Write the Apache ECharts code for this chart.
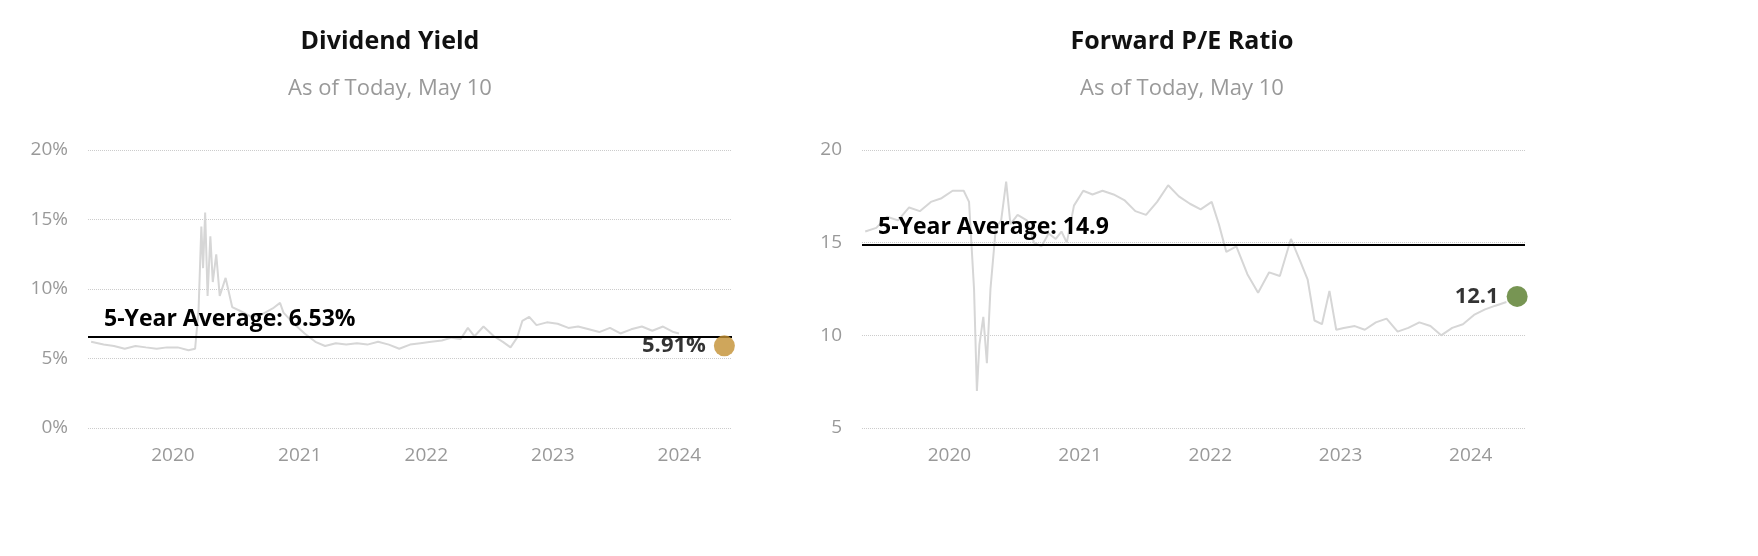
<!DOCTYPE html>
<html><head><meta charset="utf-8">
<script src="https://cdn.jsdelivr.net/npm/echarts@6/dist/echarts.min.js"></script>
<style>html,body{margin:0;background:#fff}#c{width:1758px;height:556px}</style>
</head><body><div id="c"></div>
<script>
// Dividend yield (%)
var yieldDates = ['2019-05-10','2019-06-15','2019-07-15','2019-08-15','2019-09-15','2019-10-15','2019-11-15','2019-12-15','2020-01-15','2020-02-15','2020-03-05','2020-03-15','2020-03-23','2020-03-28','2020-04-03','2020-04-10','2020-04-18','2020-04-25','2020-05-05','2020-05-15','2020-06-01','2020-06-20','2020-07-15','2020-08-15','2020-09-15','2020-10-15','2020-11-05','2020-11-15','2020-12-15','2021-01-15','2021-02-15','2021-03-15','2021-04-15','2021-05-15','2021-06-15','2021-07-15','2021-08-15','2021-09-15','2021-10-15','2021-11-15','2021-12-15','2022-01-15','2022-02-15','2022-03-15','2022-04-10','2022-05-01','2022-05-20','2022-06-15','2022-07-15','2022-08-10','2022-09-01','2022-09-20','2022-10-05','2022-10-25','2022-11-15','2022-12-15','2023-01-15','2023-02-15','2023-03-15','2023-04-15','2023-05-15','2023-06-15','2023-07-15','2023-08-15','2023-09-15','2023-10-15','2023-11-15','2023-12-15','2023-12-31'];
var yieldValues = [6.2,6.0,5.9,5.7,5.9,5.8,5.7,5.8,5.8,5.6,5.7,8.5,14.5,11.5,15.5,9.5,13.8,10.5,12.5,9.5,10.8,8.7,8.4,8.0,8.2,8.6,9.0,8.3,7.5,6.8,6.2,5.9,6.1,6.0,6.1,6.0,6.2,6.0,5.7,6.0,6.1,6.2,6.3,6.5,6.4,7.2,6.6,7.3,6.6,6.2,5.8,6.5,7.7,8.0,7.4,7.6,7.5,7.2,7.3,7.1,6.9,7.2,6.8,7.1,7.3,7.0,7.3,6.9,6.8];
var yieldAvg = 6.53;
var yieldNow = ['2024-05-10', 5.91];

// Forward P/E ratio
var peDates = ['2019-05-10','2019-06-10','2019-07-10','2019-08-10','2019-09-10','2019-10-10','2019-11-10','2019-12-10','2020-01-10','2020-02-10','2020-02-25','2020-03-10','2020-03-18','2020-03-25','2020-04-05','2020-04-15','2020-04-25','2020-05-10','2020-05-25','2020-06-08','2020-06-20','2020-07-10','2020-08-05','2020-08-25','2020-09-15','2020-10-05','2020-10-25','2020-11-10','2020-11-25','2020-12-15','2021-01-10','2021-02-05','2021-03-05','2021-04-05','2021-05-05','2021-06-05','2021-07-05','2021-08-05','2021-09-05','2021-10-05','2021-11-05','2021-12-05','2022-01-05','2022-01-25','2022-02-15','2022-03-15','2022-04-15','2022-05-15','2022-06-15','2022-07-15','2022-08-15','2022-09-10','2022-10-01','2022-10-20','2022-11-10','2022-12-01','2022-12-20','2023-01-10','2023-02-10','2023-03-10','2023-04-10','2023-05-10','2023-06-10','2023-07-10','2023-08-10','2023-09-10','2023-10-10','2023-11-10','2023-12-10','2024-01-10','2024-02-10','2024-03-10','2024-04-10'];
var peValues = [15.6,15.8,16.4,16.2,16.9,16.7,17.2,17.4,17.8,17.8,17.2,12.5,7.0,9.5,11.0,8.5,12.5,15.8,16.2,18.3,16.0,16.5,16.2,15.0,14.8,15.5,15.2,15.6,15.0,17.0,17.8,17.6,17.8,17.6,17.3,16.7,16.5,17.2,18.1,17.5,17.1,16.8,17.2,16.0,14.5,14.8,13.3,12.3,13.4,13.2,15.2,14.0,13.0,10.8,10.6,12.4,10.3,10.4,10.5,10.3,10.7,10.9,10.2,10.4,10.7,10.5,10.0,10.4,10.6,11.1,11.4,11.6,11.8];
var peAvg = 14.9;
var peNow = ['2024-05-10', 12.1];

var chart = echarts.init(document.getElementById('c'));
var font = '"Open Sans", "Noto Sans", sans-serif';
var YEAR = 365 * 864e5;

function xAxis(i) {
  return {
    type: 'time', gridIndex: i, min: '2019-05-01', max: '2024-06-01',
    minInterval: YEAR, maxInterval: YEAR,
    axisLine: { show: false }, axisTick: { show: false }, splitLine: { show: false },
    axisLabel: { formatter: '{yyyy}', color: '#999', fontSize: 19, fontFamily: font, margin: 18, showMinLabel: false, showMaxLabel: false }
  };
}
function yAxis(i, min, max, interval, fmt) {
  return {
    type: 'value', gridIndex: i, min: min, max: max, interval: interval,
    axisLine: { show: false }, axisTick: { show: false },
    splitLine: { lineStyle: { type: 'dotted', color: '#ccc' } },
    axisLabel: { formatter: fmt, color: '#999', fontSize: 19, fontFamily: font, margin: 20 }
  };
}
function lineSeries(i, dates, vals, avg, avgText) {
  return {
    type: 'line', xAxisIndex: i, yAxisIndex: i, showSymbol: false,
    lineStyle: { color: '#d6d6d6', width: 2 },
    data: dates.map(function (d, k) { return [d, vals[k]]; }),
    markLine: {
      silent: true, symbol: 'none',
      lineStyle: { color: '#000', width: 2, type: 'solid' },
      label: { position: 'insideStartTop', formatter: avgText, color: '#000', fontSize: 23, fontWeight: 'bold', fontFamily: font, distance: [16, 6] },
      data: [{ yAxis: avg }]
    }
  };
}
function dotSeries(i, pt, color, text) {
  return {
    type: 'scatter', xAxisIndex: i, yAxisIndex: i, symbolSize: 21, z: 5,
    itemStyle: { color: color },
    label: { show: true, position: 'left', formatter: text, color: '#000', fontSize: 22, fontWeight: 'bold', fontFamily: font, distance: 8 },
    data: [pt]
  };
}

chart.setOption({
  animation: false,
  title: [
    { text: 'Dividend Yield', subtext: 'As of Today, May 10', left: 385, top: 24, textAlign: 'center', itemGap: 24,
      textStyle: { fontSize: 25, fontWeight: 'bold', color: '#111', fontFamily: font },
      subtextStyle: { fontSize: 22, color: '#999', fontFamily: font } },
    { text: 'Forward P/E Ratio', subtext: 'As of Today, May 10', left: 1177, top: 24, textAlign: 'center', itemGap: 24,
      textStyle: { fontSize: 25, fontWeight: 'bold', color: '#111', fontFamily: font },
      subtextStyle: { fontSize: 22, color: '#999', fontFamily: font } }
  ],
  grid: [
    { left: 88, right: 1026, top: 150, bottom: 128 },
    { left: 862, right: 233, top: 150, bottom: 128 }
  ],
  xAxis: [xAxis(0), xAxis(1)],
  yAxis: [yAxis(0, 0, 20, 5, '{value}%'), yAxis(1, 5, 20, 5, '{value}')],
  series: [
    lineSeries(0, yieldDates, yieldValues, yieldAvg, '5-Year Average: 6.53%'),
    dotSeries(0, yieldNow, '#c39032', '5.91%'),
    lineSeries(1, peDates, peValues, peAvg, '5-Year Average: 14.9'),
    dotSeries(1, peNow, '#557a28', '12.1')
  ]
});
</script>
</body></html>
